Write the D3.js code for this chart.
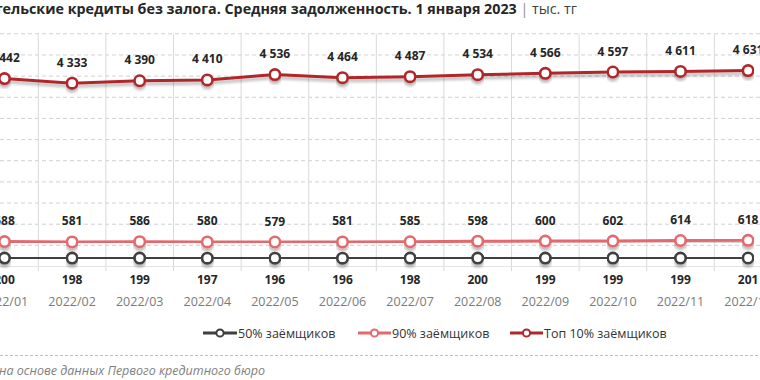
<!DOCTYPE html>
<html><head><meta charset="utf-8">
<script src="https://cdn.jsdelivr.net/npm/d3@7/dist/d3.min.js"></script>
<style>
html,body{margin:0;padding:0;background:#fff;overflow:hidden}
svg{display:block;font-family:"Open Sans",sans-serif}
</style></head>
<body>
<svg id="c" width="760" height="380"></svg>
<script>
const categories = ["2022/01","2022/02","2022/03","2022/04","2022/05","2022/06","2022/07","2022/08","2022/09","2022/10","2022/11","2022/12"];
const seriesNames = ["50% заёмщиков","90% заёмщиков","Топ 10% заёмщиков"];
const median50 = [200,198,199,197,196,196,198,200,199,199,199,201];
const p90 = [588,581,586,580,579,581,585,598,600,602,614,618];
const top10 = [4442,4333,4390,4410,4536,4464,4487,4534,4566,4597,4611,4631];
const yTicks = [0,500,1000,1500,2000,2500,3000,3500,4000,4500,5000,5500];
const titleBold = "Потребительские кредиты без залога. Средняя задолженность. 1 января 2023";
const titleUnit = "тыс. тг";
const sourceText = "на основе данных Первого кредитного бюро";

const colors = ["#3f3f3f","#e5686c","#b0282a"];
const series = [
  {name: seriesNames[0], values: median50, color: colors[0], labelPos: "below"},
  {name: seriesNames[1], values: p90, color: colors[1], labelPos: "above"},
  {name: seriesNames[2], values: top10, color: colors[2], labelPos: "above"}
];

const svg = d3.select("#c");
const bw = 67.6;
const x = d3.scaleBand().domain(categories).range([-29.3, -29.3 + bw*categories.length]).padding(0);
const cx = d => x(d) + x.bandwidth()/2;
const y = d3.scaleLinear().domain([0,5500]).range([266.5,33.8]);

const defs = svg.append("defs");
const f = defs.append("filter").attr("id","sh").attr("x","-5%").attr("y","-50%").attr("width","110%").attr("height","200%");
f.append("feDropShadow").attr("dx",0).attr("dy",3).attr("stdDeviation",1.8).attr("flood-color","#000").attr("flood-opacity",0.28);

// title
const t = svg.append("text").attr("y",13.5).attr("x",577).attr("text-anchor","end").attr("font-size",14.3);
t.append("tspan").attr("font-weight","bold").attr("fill","#262626").text(titleBold + " ");
t.append("tspan").attr("fill","#8c8c8c").attr("font-weight","normal").text("| ");
t.append("tspan").attr("fill","#404040").attr("font-weight","normal").text(titleUnit);

// grid
const g = svg.append("g");
g.selectAll("line.h").data(yTicks.slice(1)).join("line")
  .attr("x1",0).attr("x2",760).attr("y1",d=>y(d)).attr("y2",d=>y(d))
  .attr("stroke","#d0d0d0").attr("stroke-dasharray","4,3").attr("stroke-width",1);
g.selectAll("line.v").data(categories.slice(1)).join("line")
  .attr("x1",d=>x(d)).attr("x2",d=>x(d)).attr("y1",y(5500)).attr("y2",271)
  .attr("stroke","#d9d9d9").attr("stroke-width",1);
g.append("line").attr("x1",0).attr("x2",760).attr("y1",y(0)).attr("y2",y(0)).attr("stroke","#e3e3e3");

// x axis labels
svg.append("g").selectAll("text").data(categories).join("text")
  .attr("x",d=>cx(d)).attr("y",306).attr("text-anchor","middle")
  .attr("font-size",12.5).attr("fill","#7a7a7a").text(d=>d);

const line = d3.line().x((d,i)=>cx(categories[i])).y(d=>y(d));
const fmt = v => d3.format(",")(v).replace(/,/g," ");

series.forEach(s => {
  svg.append("path").datum(s.values).attr("d",line).attr("fill","none")
    .attr("stroke",s.color).attr("stroke-width",3).attr("filter","url(#sh)");
});
series.forEach(s => {
  svg.append("g").selectAll("circle").data(s.values).join("circle")
    .attr("cx",(d,i)=>cx(categories[i])).attr("cy",d=>y(d)).attr("r",5.2)
    .attr("fill","#fff").attr("stroke",s.color).attr("stroke-width",2.6).attr("filter","url(#sh)");
  svg.append("g").selectAll("text").data(s.values).join("text")
    .attr("x",(d,i)=>cx(categories[i]))
    .attr("y",d=> s.labelPos==="above" ? y(d)-16.5 : y(d)+26)
    .attr("text-anchor","middle").attr("font-size",12).attr("font-weight","bold")
    .attr("fill","#262626").text(d=>fmt(d));
});

// legend
const leg = [{x1:203,x2:237},{x1:358,x2:391},{x1:510,x2:543}];
series.forEach((s,i) => {
  const lg = svg.append("g");
  lg.append("line").attr("x1",leg[i].x1).attr("x2",leg[i].x2).attr("y1",333).attr("y2",333)
    .attr("stroke",s.color).attr("stroke-width",3);
  lg.append("circle").attr("cx",(leg[i].x1+leg[i].x2)/2).attr("cy",333).attr("r",3.6)
    .attr("fill","#fff").attr("stroke",s.color).attr("stroke-width",2);
  lg.append("text").attr("x",leg[i].x2+1).attr("y",337.5).attr("font-size",12.5).attr("fill","#333").text(s.name);
});

// separator + source
svg.append("line").attr("x1",0).attr("x2",760).attr("y1",355.5).attr("y2",355.5)
  .attr("stroke","#bfbfbf").attr("stroke-dasharray","3,2");
svg.append("text").attr("x",-1).attr("y",375).attr("font-size",12.5).attr("font-style","italic")
  .attr("fill","#808080").text(sourceText);
</script>
</body></html>
